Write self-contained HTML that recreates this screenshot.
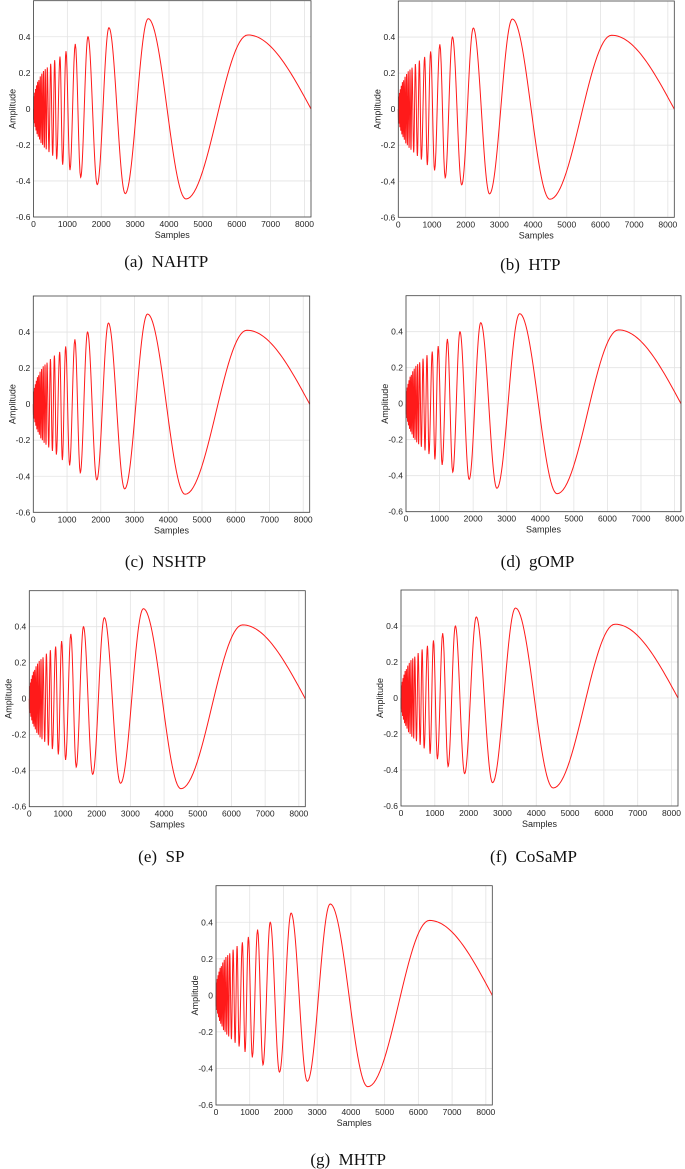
<!DOCTYPE html>
<html><head><meta charset="utf-8"><style>
html,body{margin:0;padding:0;background:#fff;width:685px;height:1169px;overflow:hidden}
svg{position:absolute;left:0;top:0}
.tk{font-family:"Liberation Sans",sans-serif;font-size:8.5px;fill:#262626}
.lb{font-family:"Liberation Sans",sans-serif;font-size:9px;fill:#262626}
.cap{font-family:"Liberation Serif",serif;font-size:17px;fill:#111}
</style></head><body>
<svg id="fig" width="685" height="1169" viewBox="0 0 685 1169"></svg>
<script>
// extrema of the reconstructed signal (sample index, amplitude)
const extremaX = [0,5,14,24,35,47,60,74,89,105,122,140,159,179,200,222,245,269,294,320,347,376,407,457,507,566,625,684,782,861,959,1077,1233,1392,1608,1882,2227,2708,3386,4500,6330,8192];
const extremaY = [0,-0.06,0.07,-0.08,0.09,-0.10,0.11,-0.12,0.13,-0.14,0.15,-0.155,0.16,-0.17,0.18,-0.19,0.195,-0.20,0.21,-0.215,0.22,-0.225,0.23,-0.24,0.25,-0.26,0.27,-0.28,0.29,-0.31,0.32,-0.34,0.36,-0.38,0.40,-0.42,0.45,-0.47,0.50,-0.50,0.41,0];
const xTicks = [0,1000,2000,3000,4000,5000,6000,7000,8000];
const yTicks = [-0.6,-0.4,-0.2,0,0.2,0.4];
const yTickLabels = ["-0.6","-0.4","-0.2","0","0.2","0.4"];
const panelNames = ["NAHTP","HTP","NSHTP","gOMP","SP","CoSaMP","MHTP"];
const panelLetters = ["a","b","c","d","e","f","g"];
const geo = [
 {L:33.5,R:311,T:0.7,B:217,cy:262},
 {L:398.3,R:674.3,T:1,B:217.3,cy:265},
 {L:33.3,R:309.7,T:296,B:512.3,cy:562},
 {L:406,R:681,T:295.7,B:511.7,cy:562},
 {L:29.3,R:305.3,T:590.7,B:806.7,cy:857},
 {L:401,R:678,T:590,B:806,cy:857},
 {L:216,R:492.3,T:885.7,B:1105,cy:1160}
];
const NS="http://www.w3.org/2000/svg";
const fig=document.getElementById('fig');
function mk(tag,attrs,parent){const e=document.createElementNS(NS,tag);for(const k in attrs)e.setAttribute(k,attrs[k]);parent.appendChild(e);return e;}
geo.forEach((g,i)=>{
  const grp=mk('g',{},fig);
  
  
  const xs=v=>g.L+(v/8192)*(g.R-g.L);
  const ys=v=>g.B-((v+0.6)/1.2)*(g.B-g.T);
  xTicks.forEach(t=>{
    const l=mk('line',{x1:xs(t),x2:xs(t),y1:g.T,y2:g.B,stroke:'#e3e3e3','stroke-width':0.8},grp);
    
    
    const tx=mk('text',{x:xs(t),y:g.B+10,'text-anchor':'middle',class:'tk'},grp);
    tx.textContent=t;
    
    
  });
  yTicks.forEach((t,k)=>{
    const l=mk('line',{x1:g.L,x2:g.R,y1:ys(t),y2:ys(t),stroke:'#e3e3e3','stroke-width':0.8},grp);
    
    
    const tx=mk('text',{x:g.L-3,y:ys(t)+3,'text-anchor':'end',class:'tk'},grp);
    tx.textContent=yTickLabels[k];
    
    
  });
  let pts=[];
  for(let s=0;s<extremaX.length-1;s++){
    const x0=extremaX[s],x1=extremaX[s+1],y0=extremaY[s],y1=extremaY[s+1];
    const n=(x1-x0)>200?30:8;
    for(let j=0;j<=n;j++){
      const f=j/n;let y;
      if(s===0){y=y1*Math.sin(f*Math.PI/2);}
      else if(s===extremaX.length-2){y=y0*Math.cos(f*Math.PI/2);}
      else{y=y0+(y1-y0)*(1-Math.cos(f*Math.PI))/2;}
      pts.push(xs(x0+(x1-x0)*f).toFixed(2)+','+ys(y).toFixed(2));
    }
  }
  const pl=mk('polyline',{points:pts.join(' '),fill:'none',stroke:'#ff1a1a','stroke-width':1},grp);
  
  
  const fr=mk('rect',{x:g.L,y:g.T,width:g.R-g.L,height:g.B-g.T,fill:'none',stroke:'#404040','stroke-width':0.8},grp);
  
  
  const xl=mk('text',{x:(g.L+g.R)/2,y:g.B+21,'text-anchor':'middle',class:'lb'},grp);
  xl.textContent='Samples';
  
  
  const yl=mk('text',{x:0,y:0,'text-anchor':'middle',class:'lb',transform:'translate('+(g.L-18)+','+((g.T+g.B)/2)+') rotate(-90)'},grp);
  yl.textContent='Amplitude';
  
  
  const cap=mk('text',{x:(g.L+g.R)/2-6,y:g.cy+5,'text-anchor':'middle',class:'cap'},grp);
  cap.textContent='('+panelLetters[i]+')\u2002'+panelNames[i];
  
  
});
</script>
</body></html>
